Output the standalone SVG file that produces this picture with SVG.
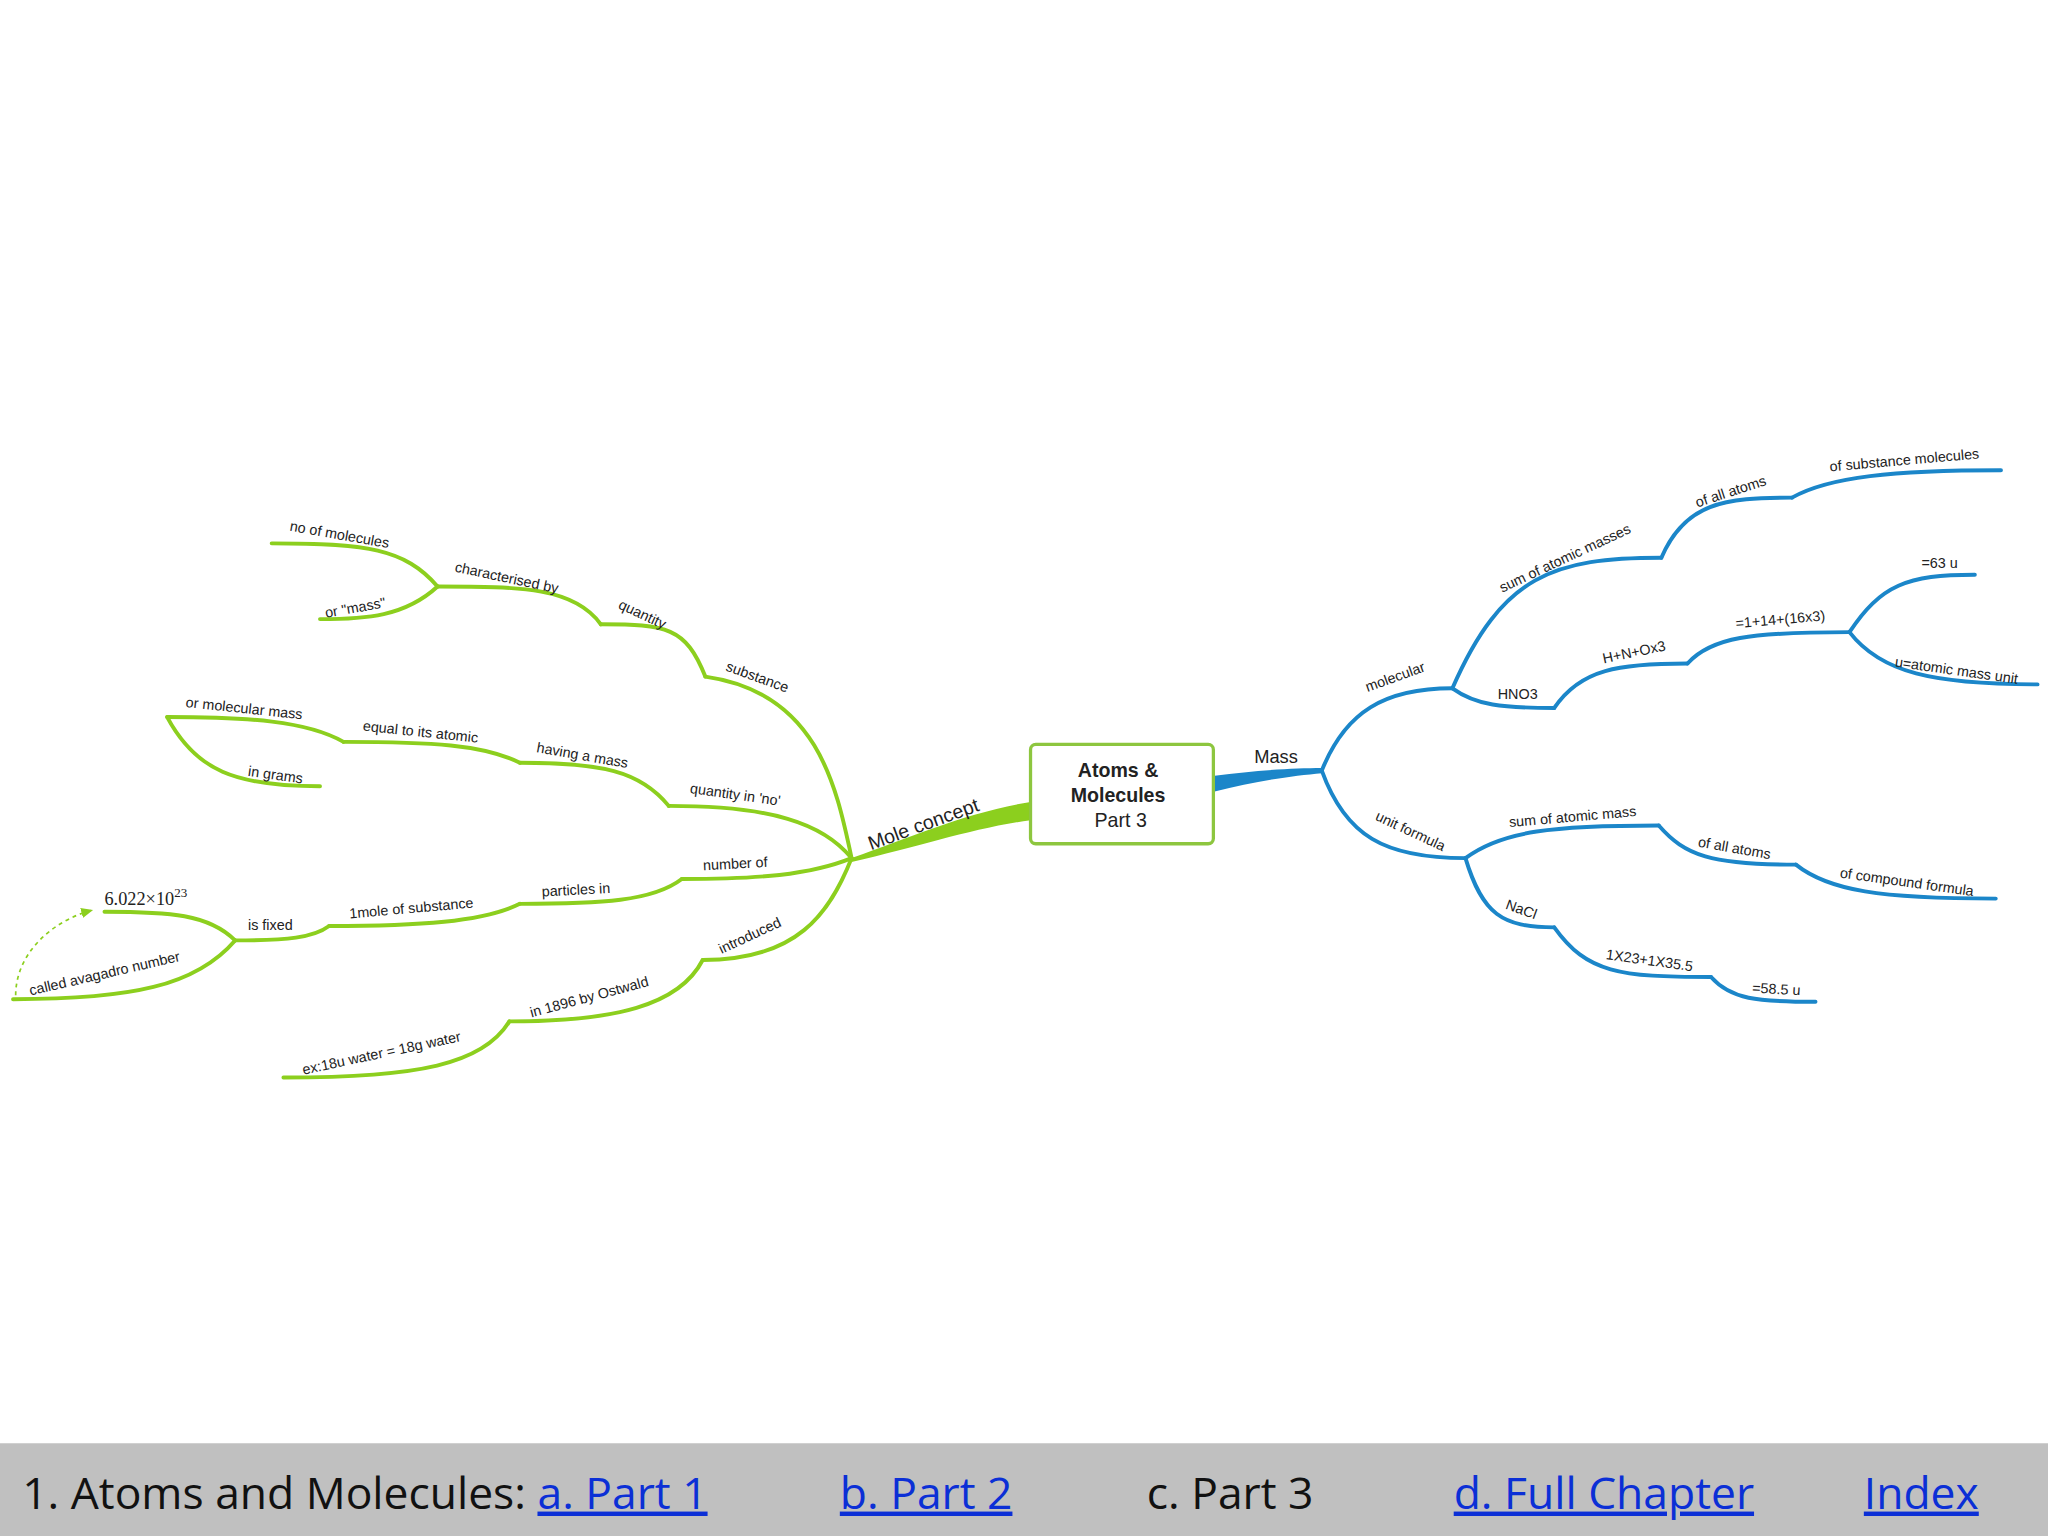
<svg xmlns="http://www.w3.org/2000/svg" width="2048" height="1536" viewBox="0 0 2048 1536">
<style>
.g{fill:none;stroke:#8ccf1e;stroke-width:3;stroke-linecap:round}
.b{fill:none;stroke:#1b86c9;stroke-width:3;stroke-linecap:round}
text{font-family:"Liberation Sans",Arial,sans-serif;font-size:11px;fill:#222}
.bar{font-family:"Open Sans","Liberation Sans",sans-serif;font-size:34px;fill:#111}
.lk{fill:#0b2fd6;text-decoration:underline}
</style>
<defs><marker id="ah" markerWidth="8" markerHeight="8" refX="6" refY="4" orient="auto"><path d="M0,1 L7,4 L0,7z" fill="#8ccf1e"/></marker></defs>
<rect width="2048" height="1536" fill="#fff"/>
<g transform="scale(1.30612)">
<g id="connectors">
<path d="M789,614 C740,622 700,640 652,657 L652,660 C705,648 745,634 789,628z" fill="#8ccf1e"/>
<path d="M930,594 C960,590 990,588 1012,588 L1012,592 C990,594 960,598 930,606z" fill="#1b86c9"/>
<path class="g" d="M652,657 C640,600 625,530 540,518"/>
<path class="g" d="M540,518 C525,480 510,478 460,478"/>
<path class="g" d="M460,478 C440,450 400,449 335,449"/>
<path class="g" d="M335,449 C310,420 280,416 208,416"/>
<path class="g" d="M335,449 C310,472 280,474 245,474"/>
<path class="g" d="M652,657 C630,630 590,617 512,617"/>
<path class="g" d="M512,617 C490,590 460,584 398,584"/>
<path class="g" d="M398,584 C370,570 330,568 263,568"/>
<path class="g" d="M263,568 C235,552 190,549 128,549"/>
<path class="g" d="M128,549 C150,590 180,602 245,602"/>
<path class="g" d="M652,657 C620,670 580,673 522,673"/>
<path class="g" d="M522,673 C500,690 460,692 398,692"/>
<path class="g" d="M398,692 C370,706 320,709 252,709"/>
<path class="g" d="M252,709 C240,718 220,720 180,720"/>
<path class="g" d="M180,720 C160,700 130,698 80,698"/>
<path class="g" d="M180,720 C150,755 100,765 10,765"/>
<path d="M12,762 C12,730 40,705 70,697" fill="none" stroke="#8ccf1e" stroke-width="1.3" stroke-dasharray="3,3" marker-end="url(#ah)"/>
<path class="g" d="M652,657 C635,700 610,735 538,735"/>
<path class="g" d="M538,735 C520,770 470,782 390,782"/>
<path class="g" d="M390,782 C370,815 320,825 217,825"/>
<path class="b" d="M1012,590 C1030,545 1060,527 1112,527"/>
<path class="b" d="M1112,527 C1150,440 1190,427 1272,427"/>
<path class="b" d="M1272,427 C1290,385 1320,381 1372,381"/>
<path class="b" d="M1372,381 C1400,365 1450,360 1532,360"/>
<path class="b" d="M1112,527 C1130,540 1150,542 1190,542"/>
<path class="b" d="M1190,542 C1210,512 1240,508 1292,508"/>
<path class="b" d="M1292,508 C1310,488 1340,484 1416,484"/>
<path class="b" d="M1416,484 C1440,448 1460,440 1512,440"/>
<path class="b" d="M1416,484 C1440,515 1480,524 1560,524"/>
<path class="b" d="M1012,590 C1030,640 1060,657 1122,657"/>
<path class="b" d="M1122,657 C1150,636 1190,632 1270,632"/>
<path class="b" d="M1270,632 C1290,655 1310,662 1375,662"/>
<path class="b" d="M1375,662 C1400,682 1440,688 1528,688"/>
<path class="b" d="M1122,657 C1135,700 1150,710 1190,710"/>
<path class="b" d="M1190,710 C1215,745 1240,748 1310,748"/>
<path class="b" d="M1310,748 C1325,765 1345,767 1390,767"/>
</g>
<g id="center">
<rect x="789" y="570" width="140" height="76" rx="4" fill="#fff" stroke="#8dc63f" stroke-width="2.5"/>
<text x="856" y="595" text-anchor="middle" style="font-size:15px;font-weight:bold">Atoms &amp;</text>
<text x="856" y="614" text-anchor="middle" style="font-size:15px;font-weight:bold">Molecules</text>
<text x="858" y="633" text-anchor="middle" style="font-size:15px">Part 3</text>
</g>
<g id="labels">
<text x="707" y="636" text-anchor="middle" style="font-size:15px" transform="rotate(-20 707 631)">Mole concept</text>
<text x="977" y="584" text-anchor="middle" style="font-size:14px">Mass</text>
<text x="580" y="522" text-anchor="middle" transform="rotate(20 580 518)">substance</text>
<text x="492" y="474" text-anchor="middle" transform="rotate(25 492 470)">quantity</text>
<text x="388" y="446" text-anchor="middle" transform="rotate(12 388 442)">characterised by</text>
<text x="260" y="413" text-anchor="middle" transform="rotate(10 260 409)">no of molecules</text>
<text x="272" y="469" text-anchor="middle" transform="rotate(-10 272 465)">or "mass"</text>
<text x="563" y="612" text-anchor="middle" transform="rotate(8 563 608)">quantity in 'no'</text>
<text x="446" y="582" text-anchor="middle" transform="rotate(10 446 578)">having a mass</text>
<text x="322" y="564" text-anchor="middle" transform="rotate(6 322 560)">equal to its atomic</text>
<text x="187" y="546" text-anchor="middle" transform="rotate(6 187 542)">or molecular mass</text>
<text x="211" y="597" text-anchor="middle" transform="rotate(8 211 593)">in grams</text>
<text x="563" y="665" text-anchor="middle" transform="rotate(-3 563 662)">number of</text>
<text x="441" y="685" text-anchor="middle" transform="rotate(-3 441 682)">particles in</text>
<text x="315" y="699" text-anchor="middle" transform="rotate(-5 315 696)">1mole of substance</text>
<text x="207" y="712" text-anchor="middle">is fixed</text>
<text x="80" y="693" style="font-family:'Liberation Serif',serif;font-size:14px">6.022×10<tspan dy="-6" style="font-size:10px">23</tspan></text>
<text x="80" y="749" text-anchor="middle" transform="rotate(-13 80 745)">called avagadro number</text>
<text x="574" y="720" text-anchor="middle" transform="rotate(-25 574 716)">introduced</text>
<text x="451" y="767" text-anchor="middle" transform="rotate(-15 451 763)">in 1896 by Ostwald</text>
<text x="292" y="810" text-anchor="middle" transform="rotate(-12 292 806)">ex:18u water = 18g water</text>
<text x="1068" y="522" text-anchor="middle" transform="rotate(-20 1068 518)">molecular</text>
<text x="1198" y="431" text-anchor="middle" transform="rotate(-25 1198 427)">sum of atomic masses</text>
<text x="1325" y="380" text-anchor="middle" transform="rotate(-18 1325 376)">of all atoms</text>
<text x="1458" y="356" text-anchor="middle" transform="rotate(-5 1458 352)">of substance molecules</text>
<text x="1162" y="535" text-anchor="middle">HNO3</text>
<text x="1251" y="503" text-anchor="middle" transform="rotate(-12 1251 499)">H+N+Ox3</text>
<text x="1363" y="478" text-anchor="middle" transform="rotate(-5 1363 474)">=1+14+(16x3)</text>
<text x="1485" y="435" text-anchor="middle">=63 u</text>
<text x="1498" y="517" text-anchor="middle" transform="rotate(8 1498 513)">u=atomic mass unit</text>
<text x="1080" y="640" text-anchor="middle" transform="rotate(25 1080 636)">unit formula</text>
<text x="1204" y="629" text-anchor="middle" transform="rotate(-5 1204 625)">sum of atomic mass</text>
<text x="1328" y="653" text-anchor="middle" transform="rotate(10 1328 649)">of all atoms</text>
<text x="1460" y="679" text-anchor="middle" transform="rotate(8 1460 675)">of compound formula</text>
<text x="1165" y="700" text-anchor="middle" transform="rotate(20 1165 696)">NaCl</text>
<text x="1263" y="739" text-anchor="middle" transform="rotate(8 1263 735)">1X23+1X35.5</text>
<text x="1360" y="761" text-anchor="middle" transform="rotate(3 1360 757)">=58.5 u</text>
</g>
<g id="footer">
<rect x="0" y="1105" width="1568" height="71" fill="#c0c0c0"/>
<text class="bar" x="17" y="1155">1. Atoms and Molecules: <tspan class="lk">a. Part 1</tspan></text>
<text class="bar lk" x="643" y="1155">b. Part 2</text>
<text class="bar" x="878" y="1155">c. Part 3</text>
<text class="bar lk" x="1113" y="1155">d. Full Chapter</text>
<text class="bar lk" x="1427" y="1155">Index</text>
</g>
</g>
</svg>
